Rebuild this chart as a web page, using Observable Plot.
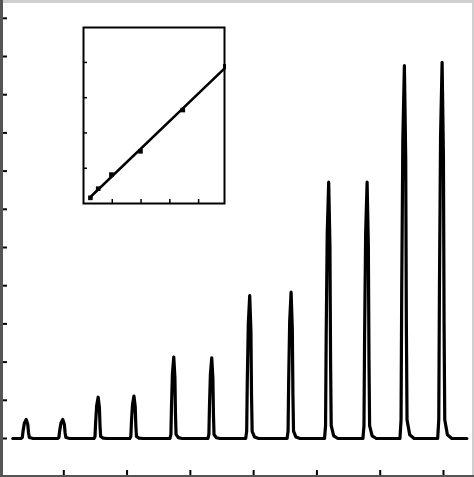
<!DOCTYPE html>
<html><head><meta charset="utf-8">
<script src="https://cdn.jsdelivr.net/npm/d3@7"></script>
<script src="https://cdn.jsdelivr.net/npm/@observablehq/plot@0.6"></script>
<style>
html,body{margin:0;padding:0;background:#fff;}
#wrap{position:relative;width:474px;height:477px;overflow:hidden;}
#inset{position:absolute;left:81px;top:25px;}
svg{display:block;}
</style></head><body>
<div id="wrap"><div id="main"></div><div id="inset"></div></div>
<script>
// Chromatogram: peak retention times (min), heights (signal units), half base widths (min)
const peakTime = [0.406, 0.984, 1.543, 2.109, 2.738, 3.338, 3.938, 4.592, 5.186, 5.793, 6.382, 6.978];
const peakHeight = [0.50, 0.50, 1.08, 1.11, 2.13, 2.11, 3.74, 3.83, 6.71, 6.71, 9.76, 9.85];
const peakHalfWidth = [0.082, 0.082, 0.066, 0.066, 0.06, 0.06, 0.064, 0.064, 0.066, 0.066, 0.07, 0.07];
const traceStart = 0.194;
const traceEnd = 7.37;
// peak outline (relative offsets / fractions of height)
const profileDx = [-1.0, -0.75, -0.6, -0.35, 0, 0.3, 0.45, 0.6, 1.2, 2.2];
const profileDy = [0, 0.05, 0.4, 0.8, 1, 0.75, 0.3, 0.05, 0.01, 0];
const mainXDomain = [0, 7.49];
const mainYDomain = [-1.021, 11.466];
const mainXTicks = [1, 2, 3, 4, 5, 6, 7];
const mainYTicks = [0, 1, 2, 3, 4, 5, 6, 7, 8, 9, 10, 11];

// Inset calibration
const insetConc = [0.24, 0.51, 0.97, 1.98, 3.45, 4.93];
const insetResp = [0.16, 0.42, 0.82, 1.48, 2.65, 3.89];
const insetXDomain = [0, 4.9];
const insetYDomain = [0, 4.99];
const insetTicks = [1, 2, 3, 4];

const trace = [{t: traceStart, s: 0}];
peakTime.forEach((c, i) => {
  profileDx.forEach((dx, j) => {
    trace.push({t: c + dx * peakHalfWidth[i], s: profileDy[j] * peakHeight[i]});
  });
});
trace.push({t: traceEnd, s: 0});

const blank = () => "";

const main = Plot.plot({
  width: 474, height: 477,
  marginTop: 0, marginRight: 0, marginBottom: 0, marginLeft: 0,
  x: {domain: mainXDomain, axis: null},
  y: {domain: mainYDomain, axis: null},
  marks: [
    Plot.line(trace, {x: "t", y: "s", stroke: "black", strokeWidth: 3.2, strokeLinejoin: "round"}),
    Plot.axisX({ticks: mainXTicks, anchor: "bottom", tickSize: -7, tickFormat: blank, label: null, strokeWidth: 2}),
    Plot.axisY({ticks: mainYTicks, anchor: "left", tickSize: -7, tickFormat: blank, label: null, strokeWidth: 2}),
    Plot.ruleY([mainYDomain[1]], {stroke: "#cfcfcf", strokeWidth: 5}),
    Plot.ruleX([mainXDomain[1]], {stroke: "#cfcfcf", strokeWidth: 5}),
    Plot.ruleX([mainXDomain[0]], {stroke: "#555", strokeWidth: 5}),
    Plot.ruleY([mainYDomain[0]], {stroke: "#555", strokeWidth: 5})
  ]
});
document.getElementById("main").append(main);

const calib = insetConc.map((x, i) => ({x, y: insetResp[i]}));
const inset = Plot.plot({
  width: 145, height: 180,
  marginTop: 2, marginRight: 2, marginBottom: 2, marginLeft: 2,
  x: {domain: insetXDomain, axis: null},
  y: {domain: insetYDomain, axis: null},
  marks: [
    Plot.frame({stroke: "black", strokeWidth: 2}),
    Plot.axisX({ticks: insetTicks, anchor: "bottom", tickSize: -4, tickFormat: blank, label: null, strokeWidth: 1.5}),
    Plot.axisY({ticks: insetTicks, anchor: "left", tickSize: -4, tickFormat: blank, label: null, strokeWidth: 1.5}),
    Plot.linearRegressionY(calib, {x: "x", y: "y", ci: 0, stroke: "black", strokeWidth: 2.5}),
    Plot.dot(calib, {x: "x", y: "y", symbol: "square", r: 2.6, fill: "black"})
  ]
});
document.getElementById("inset").append(inset);
</script>
</body></html>
